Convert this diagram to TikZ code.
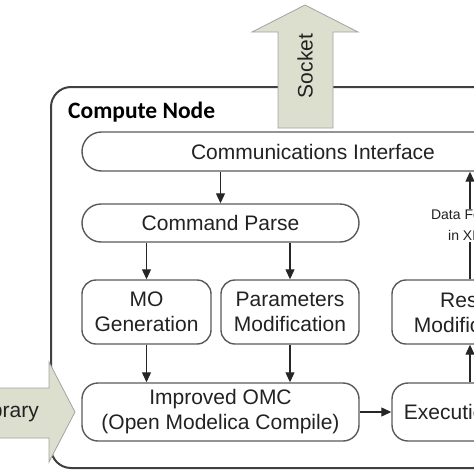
\documentclass[tikz,border=0pt]{standalone}
\usepackage{fontspec}
\setmainfont{Liberation Sans}
\newfontfamily\calibri{Carlito}
\usetikzlibrary{arrows.meta,calc,positioning}
\definecolor{boxline}{HTML}{5A5A5A}
\definecolor{arrowfill}{HTML}{DCDECE}
\definecolor{arrowline}{HTML}{A3A3A3}
\definecolor{inktext}{HTML}{222222}

\begin{document}
\begin{tikzpicture}[x=1pt, y=-1pt,
  box/.style={draw=boxline, line width=1.4pt, fill=white, text=inktext, align=center, inner sep=0pt, font=\fontsize{21}{25}\selectfont},
  flow/.style={draw=black!85, line width=1.1pt, -{Triangle[length=10pt,width=9pt]}}]
  \useasboundingbox (0,0) rectangle (474,474);
  \clip (0,0) rectangle (474,474);

  % compute node frame
  \draw[draw=black!75, line width=2pt, rounded corners=20pt] (51,87) rectangle (640,468);
  \node[anchor=base west, inner sep=0pt, font=\calibri\bfseries\fontsize{23.5}{27}\selectfont] (title) at (68,118) {Compute Node};

  % blocks
  \node[box, minimum width=462pt, minimum height=39pt, rounded corners=19.5pt] (ci) at (313,151.5) {Communications Interface};
  \node[box, minimum width=277pt, minimum height=38pt, rounded corners=19pt] (cp) at (220.5,223) {Command Parse};
  \node[box, minimum width=129pt, minimum height=64pt, rounded corners=14pt] (mo) at (146.5,312) {MO\\Generation};
  \node[box, minimum width=138pt, minimum height=64pt, rounded corners=14pt] (pm) at (290,312) {Parameters\\Modification};
  \node[box, minimum width=277pt, minimum height=58pt, rounded corners=16pt] (omc) at (220.5,412) {Improved OMC\\(Open Modelica Compile)};
  \node[box, minimum width=116pt, minimum height=58pt, rounded corners=16pt] (ex) at (450,412) {Execution};
  \node[box, minimum width=156pt, minimum height=64pt, rounded corners=14pt] (rm) at (470,312) {Result\\Modification};

  \draw[flow] (cp.north |- ci.south) -- (cp.north);
  \draw[flow] (cp.south -| mo.north) -- (mo.north);
  \draw[flow] (cp.south -| pm.north) -- (pm.north);
  \draw[flow] (mo.south) -- (mo.south |- omc.north);
  \draw[flow] (pm.south) -- (pm.south |- omc.north);
  \draw[flow] (omc.east) -- (ex.west);
  \draw[flow] (rm.south |- ex.north) -- (rm.south);
  \draw[flow] (rm.north) -- node[fill=white, text=inktext, align=center, inner sep=1pt, font=\fontsize{14}{21}\selectfont] (fmt) {Data Format\\in XML} (rm.north |- ci.south);

  % big arrows
  \draw[draw=arrowline, fill=arrowfill, line width=0.8pt] (278,128) -- (278,32) -- (252,32) -- (305,5) -- (358,32) -- (333,32) -- (333,128) -- cycle;
  \node[rotate=90, text=inktext, font=\fontsize{21}{25}\selectfont] (sock) at (305,66) {Socket};
  \draw[draw=arrowline, fill=arrowfill, line width=0.8pt] (-80,388) -- (49,388) -- (49,362) -- (75,412) -- (49,462) -- (49,438) -- (-80,438) -- cycle;
  \node[anchor=east, text=inktext, inner sep=0pt, font=\fontsize{21}{25}\selectfont] (lib) at (39,412) {Library};
\end{tikzpicture}
\end{document}
